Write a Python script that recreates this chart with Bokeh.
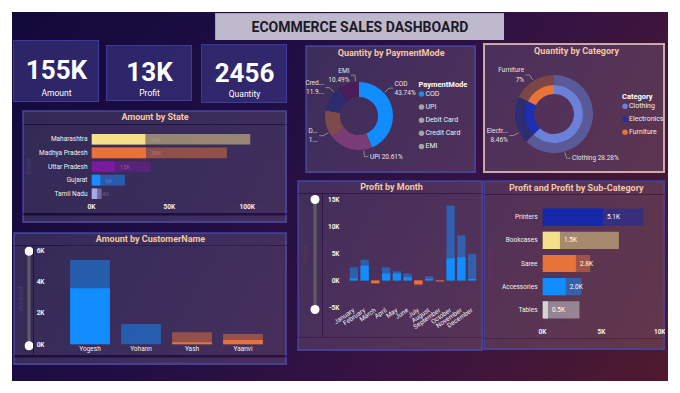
import math
import numpy as np
from bokeh.plotting import figure
from bokeh.models import Range1d, FactorRange, FixedTicker, LinearAxis, CategoricalAxis, ColumnDataSource
from bokeh.layouts import column, row
from bokeh.embed import file_html
from bokeh.resources import INLINE
from bokeh.core.properties import value

# ---------------- data ----------------
dashboard_title = "ECOMMERCE SALES DASHBOARD"

kpi_values = ["155K", "13K", "2456"]
kpi_labels = ["Amount", "Profit", "Quantity"]

states = ["Maharashtra", "Madhya Pradesh", "Uttar Pradesh", "Gujarat", "Tamil Nadu"]
state_amount = [102000, 87000, 38000, 21500, 6500]
state_amount_hl = [34600, 35000, 15000, 5700, 3600]
state_ticks = [0, 50000, 100000]
state_tick_labels = ["0K", "50K", "100K"]

customers = ["Yogesh", "Yohann", "Yash", "Yaanvi"]
customer_amount = [5430, 1310, 780, 670]
customer_amount_hl = [3610, 0, 140, 290]
customer_ticks = [0, 2000, 4000, 6000]
customer_tick_labels = ["0K", "2K", "4K", "6K"]

payment_modes = ["COD", "UPI", "Debit Card", "Credit Card", "EMI"]
payment_share = [43.74, 20.61, 13.26, 11.90, 10.49]
payment_slice_labels = ["COD\n43.74%", "UPI 20.61%", "D...\n1...", "Cred...\n11.9...", "EMI\n10.49%"]

categories = ["Clothing", "Electronics", "Furniture"]
category_share = [62.5, 19.7, 17.8]
category_share_hl = [28.28, 8.46, 7.0]
category_slice_labels = ["Clothing 28.28%", "Electr...\n8.46%", "Furniture\n7%"]

months = ["January", "February", "March", "April", "May", "June", "July",
          "August", "September", "October", "November", "December"]
month_profit = [2450, 3850, -600, 2450, 1700, 1280, -900, 800, -200, 13900, 8360, 4900]
month_profit_hl = [350, 2750, -450, 1300, 1300, 600, -650, 300, -150, 4100, 4300, 300]
month_ticks = [-5000, 0, 5000, 10000, 15000]
month_tick_labels = ["-5K", "0K", "5K", "10K", "15K"]

subcats = ["Printers", "Bookcases", "Saree", "Accessories", "Tables"]
subcat_profit = [8550, 6470, 4040, 3300, 3130]
subcat_profit_hl = [5120, 1480, 2830, 1970, 460]
subcat_ticks = [0, 5000, 10000]
subcat_tick_labels = ["0K", "5K", "10K"]

# ---------------- styles ----------------
FONT = "Roboto"
TXT = "#f2f2f2"
FAINT = "#4d3d78"
FAINT2 = "#5e3560"
PEACH = "#f4c6a6"
OUTLINE = "#2e2580"
BLUE = "#118dff"
ORANGE = "#e8733a"
PANEL_ALPHA = 0.13
state_colors = ["#f2e08a", "#e8733a", "#7a1a9c", "#1a8cff", "#a9a9ea"]
customer_colors = [BLUE, BLUE, ORANGE, ORANGE]
subcat_colors = ["#1428a8", "#f2e08a", "#e8733a", "#118dff", "#d4d4d4"]
payment_colors = ["#118dff", "#7b3a78", "#7e4b4b", "#2d2c6e", "#4b1c5b"]
payment_legend_dots = ["#118dff", "#a3a3a3", "#a3a3a3", "#a3a3a3", "#a3a3a3"]
category_outer_colors = ["#5b5a98", "#2d2d72", "#7b4646"]
category_inner_colors = ["#6b80d8", "#1c2eb4", "#e8733a"]


def outline_css(color, w=1):
    return {"outline": f"{w}px solid {color}", "outline-offset": f"-{w}px"}


def fig(w, h, x_range, y_range, borders, fill="white", alpha=PANEL_ALPHA):
    l, t, r, b = borders
    p = figure(width=w, height=h, x_range=x_range, y_range=y_range,
               x_axis_location=None, y_axis_location=None,
               output_backend="svg", toolbar_location=None,
               min_border_left=l, min_border_top=t, min_border_right=r, min_border_bottom=b)
    p.border_fill_color = fill
    p.border_fill_alpha = alpha
    p.background_fill_color = fill
    p.background_fill_alpha = alpha
    p.outline_line_color = None
    p.grid.visible = False
    return p


def text_band(w, h, text, cx, cy, color=PEACH, size="9px", bold=True):
    # a thin strip; x measured in pixels from the panel's left edge, y from its top
    p = fig(w, h, Range1d(0, w), Range1d(-h, 0), (0, 0, 0, 0))
    p.text(x=[cx], y=[-cy], text=[text], text_align="center", text_baseline="middle",
           text_font=value(FONT), text_font_size=size, text_font_style="bold" if bold else "normal",
           text_color=color)
    return row(p)


def style_axis(ax, size="6.5px", standoff=4, bold=False, label=None, label_standoff=2,
               label_color=FAINT, label_size="7px"):
    ax.axis_line_color = None
    ax.major_tick_line_color = None
    ax.minor_tick_line_color = None
    ax.major_tick_out = 0
    ax.major_tick_in = 0
    ax.minor_tick_out = 0
    ax.minor_tick_in = 0
    ax.major_label_text_font = FONT
    ax.major_label_text_font_size = size
    ax.major_label_text_color = TXT
    ax.major_label_standoff = standoff
    if bold:
        ax.major_label_text_font_style = "bold"
    if label:
        ax.axis_label = label
        ax.axis_label_text_font = FONT
        ax.axis_label_text_font_size = label_size
        ax.axis_label_text_font_style = "normal"
        ax.axis_label_text_color = label_color
        ax.axis_label_standoff = label_standoff


def lin_inv(p0, v0, p1, v1):
    k = (v1 - v0) / (p1 - p0)
    return lambda px: v0 + (px - p0) * k


def slider_fig(w, h, borders, y_range, lo, hi, label, label_color):
    p = fig(w, h, Range1d(-1, 1), y_range, borders)
    p.segment(x0=0, y0=lo, x1=0, y1=hi, line_color="#5f5d66", line_width=3)
    p.scatter(x=[0, 0], y=[lo, hi], size=9, fill_color="white", line_color=None)
    ax = LinearAxis(ticker=FixedTicker(ticks=[]))
    style_axis(ax, label=label, label_standoff=0, label_color=label_color)
    p.add_layout(ax, "left")
    return p


def panel(w, h, parts, margin, color=OUTLINE, width=2):
    return column(*parts, width=w, height=h, margin=margin, styles=outline_css(color, width))


# ---------------- title ----------------
tf = fig(289, 27, Range1d(0, 1), Range1d(0, 1), (0, 0, 0, 0), fill="#bdb8cb", alpha=1.0)
tf.text(x=[0.5], y=[0.5], text=[dashboard_title], text_align="center", text_baseline="middle",
        text_font=value(FONT), text_font_size="14px", text_font_style="bold", text_color="#1d1a26")
title_box = row(tf, margin=(1, 0, 0, 203), styles=outline_css("#8f8aa3"))

# ---------------- KPI cards ----------------
card_sizes = [(86, 62), (86, 56), (86, 59)]
card_margins = [(0, 0, 0, 1), (5, 0, 0, 7), (4, 0, 0, 9)]
cards = []
for i in range(3):
    w, h = card_sizes[i]
    c = fig(w, h, Range1d(0, 1), Range1d(0, 1), (0, 0, 0, 0), fill="#4a46a0", alpha=0.45)
    c.text(x=[0.5], y=[0.52], text=[kpi_values[i]], text_align="center", text_baseline="middle",
           text_font=value(FONT), text_font_size="26px", text_font_style="bold", text_color="white")
    c.text(x=[0.5], y=[0.16], text=[kpi_labels[i]], text_align="center", text_baseline="middle",
           text_font=value(FONT), text_font_size="8.5px", text_color="white")
    cards.append(row(c, margin=card_margins[i], styles=outline_css("#3b3399")))
kpi_row = row(*cards)

# ---------------- Amount by State ----------------
# panel 22..287 x 110..223 ; title 110..124 ; chart 124..213 ; axis title 213..223
# frame 87..277 x 132..201 ; 0 at 87, 100K at 246
st_inv = lin_inv(87, 0, 246, 100000)
state_p = fig(265, 89, Range1d(st_inv(87), st_inv(277)), FactorRange(factors=states[::-1]),
              (65, 8, 10, 12))
src = ColumnDataSource(dict(state=states, total=state_amount, hl=state_amount_hl, color=state_colors,
                            label=[f"{v/1000:.0f}K" for v in state_amount_hl]))
state_p.hbar(y="state", left=0, right="total", height=0.78, fill_color="color", fill_alpha=0.5,
             line_color=None, source=src)
state_p.hbar(y="state", left=0, right="hl", height=0.78, fill_color="color", line_color=None, source=src)
state_p.text(x="hl", y="state", text="label", x_offset=5, text_baseline="middle", text_font=value(FONT),
             text_font_size="6px", text_color="#d8c8d8", text_alpha=0.35, source=src)
ya = CategoricalAxis()
style_axis(ya, standoff=4, label="State", label_standoff=3)
state_p.add_layout(ya, "left")
xa = LinearAxis(ticker=FixedTicker(ticks=state_ticks),
                major_label_overrides=dict(zip(state_ticks, state_tick_labels)))
style_axis(xa, standoff=2, bold=True)
state_p.add_layout(xa, "below")
state_panel = panel(265, 113, [text_band(265, 14, "Amount by State", 132.6, 6.7), row(state_p),
                               text_band(265, 10, "Amount", 160, 5, FAINT, "6px", False)],
                    (7, 0, 0, 10))

# ---------------- Amount by CustomerName ----------------
# panel 13..287 x 232..365 ; title 232..245 ; body 245..355 ; axis title 355..365
# 0 at 345.3, 6K at 250.7
cu_inv = lin_inv(345.3, 0, 250.7, 6000)
cu_slider = slider_fig(20, 110, (9, 0, 0, 4), Range1d(cu_inv(351), cu_inv(245)),
                       customer_ticks[0], customer_ticks[-1], "Amount", FAINT)
cust_p = fig(254, 110, FactorRange(factors=customers), Range1d(cu_inv(345.3), cu_inv(245)),
             (31, 0, 19, 10))
csrc = ColumnDataSource(dict(c=customers, total=customer_amount, hl=customer_amount_hl, color=customer_colors))
cust_p.vbar(x="c", bottom=0, top="total", width=0.78, fill_color="color", fill_alpha=0.5,
            line_color=None, source=csrc)
cust_p.vbar(x="c", bottom=0, top="hl", width=0.78, fill_color="color", line_color=None, source=csrc)
cya = LinearAxis(ticker=FixedTicker(ticks=customer_ticks),
                 major_label_overrides=dict(zip(customer_ticks, customer_tick_labels)))
style_axis(cya, standoff=20, bold=True)
cust_p.add_layout(cya, "left")
cxa = CategoricalAxis()
style_axis(cxa, standoff=0)
cust_p.add_layout(cxa, "below")
cust_panel = panel(274, 133, [text_band(274, 13, "Amount by CustomerName", 137, 6.7),
                              row(row(cu_slider), row(cust_p)),
                              text_band(274, 10, "CustomerName", 153, 5, FAINT, "6px", False)],
                   (9, 0, 0, 1))


# ---------------- donut helpers ----------------
def donut(p, cx, cy, shares, r_in, r_out, colors):
    cum = np.concatenate([[0], np.cumsum(shares)])
    starts = [math.pi / 2 - 2 * math.pi * c / 100 for c in cum[:-1]]
    ends = [math.pi / 2 - 2 * math.pi * c / 100 for c in cum[1:]]
    p.annular_wedge(x=cx, y=cy, inner_radius=r_in, outer_radius=r_out,
                    inner_radius_units="screen", outer_radius_units="screen",
                    start_angle=starts, end_angle=ends, direction="clock",
                    fill_color=colors, line_color=None)


def donut_labels(p, cx, cy, shares, fracs, texts, r1, r2, hlen=4, gap=1.5):
    cum = 0.0
    xs, ys = [], []
    left = dict(x=[], y=[], t=[])
    right = dict(x=[], y=[], t=[])
    for s, f, t in zip(shares, fracs, texts):
        th = 2 * math.pi * (cum + f * s) / 100
        sx, sy = math.sin(th), math.cos(th)
        x1, y1 = cx + r1 * sx, cy + r1 * sy
        x2, y2 = cx + r2 * sx, cy + r2 * sy
        d = 1 if sx >= 0 else -1
        x3 = x2 + d * hlen
        xs.append([x1, x2, x3])
        ys.append([y1, y2, y2])
        tgt = left if d > 0 else right
        tgt["x"].append(x3 + d * gap)
        tgt["y"].append(y2)
        tgt["t"].append(t)
        cum += s
    p.multi_line(xs, ys, line_color="#a0a0a0", line_width=0.8)
    for dct, al in ((left, "left"), (right, "right")):
        if dct["x"]:
            p.text(x=dct["x"], y=dct["y"], text=dct["t"], text_align=al, text_baseline="middle",
                   text_font=value(FONT), text_font_size="6.5px", text_color="#e6e6e6",
                   text_line_height=1.15)


def legend(p, x, y0, step, title, names, dots):
    p.text(x=[x - 3], y=[-(y0 - 10)], text=[title], text_baseline="middle", text_font=value(FONT),
           text_font_size="7.5px", text_font_style="bold", text_color="white")
    ys = [-(y0 + i * step) for i in range(len(names))]
    p.scatter(x=[x] * len(names), y=ys, size=5.5, fill_color=dots, line_color=None)
    p.text(x=[x + 4] * len(names), y=ys, text=names, text_baseline="middle", text_font=value(FONT),
           text_font_size="7px", text_color="#eeeeee")


def donut_title(p, x, y, text):
    p.text(x=[x], y=[-y], text=[text], text_align="center", text_baseline="middle",
           text_font=value(FONT), text_font_size="9px", text_font_style="bold", text_color=PEACH)


# ---------------- Quantity by PaymentMode ----------------
# panel 305..476 x 45..173 (data = page coords, y negated)
pay_p = fig(171, 128, Range1d(305, 476), Range1d(-173, -45), (0, 0, 0, 0))
donut_title(pay_p, 390.6, 52, "Quantity by PaymentMode")
donut(pay_p, 358.5, -115.5, payment_share, 19, 34, payment_colors)
donut_labels(pay_p, 358.5, -115.5, payment_share, [0.3, 0.2, 0.2, 0.8, 0.85],
             payment_slice_labels, 35, 41)
legend(pay_p, 421, 93.5, 13.1, "PaymentMode", payment_modes, payment_legend_dots)
pay_box = row(pay_p, margin=(5, 0, 0, 10), styles=outline_css(OUTLINE, 2))

# ---------------- Profit by Month ----------------
# panel 297..483 x 180..351 ; title 180..193 ; body 193..337 ; axis title 337..351
# 15K at 199, -5K at 309
mo_inv = lin_inv(309, -5000, 199, 15000)
mo_slider = slider_fig(25, 144, (12, 1, 2, 23), Range1d(mo_inv(314), mo_inv(194)),
                       month_ticks[0], month_ticks[-1], "Profit", FAINT2)
month_p = fig(161, 144, FactorRange(factors=months), Range1d(mo_inv(309), mo_inv(199)), (26, 6, 6, 28))
msrc = ColumnDataSource(dict(m=months, total=month_profit, hl=month_profit_hl,
                             color=[BLUE if v >= 0 else ORANGE for v in month_profit]))
month_p.vbar(x="m", bottom=0, top="total", width=0.77, fill_color="color", fill_alpha=0.5,
             line_color=None, source=msrc)
month_p.vbar(x="m", bottom=0, top="hl", width=0.77, fill_color="color", line_color=None, source=msrc)
mya = LinearAxis(ticker=FixedTicker(ticks=month_ticks),
                 major_label_overrides=dict(zip(month_ticks, month_tick_labels)))
style_axis(mya, standoff=9, bold=True)
month_p.add_layout(mya, "left")
mxa = CategoricalAxis(major_label_orientation=0.61)
style_axis(mxa, standoff=2)
month_p.add_layout(mxa, "below")
month_panel = panel(186, 171, [text_band(186, 13, "Profit by Month", 94, 6.5),
                               row(row(mo_slider), row(month_p)),
                               text_band(186, 14, "Month", 115.5, 6, FAINT2, "7px", False)],
                    (7, 0, 0, 2))

# ---------------- Quantity by Category ----------------
# panel 483..665 x 43..173
cat_p = fig(182, 130, Range1d(483, 665), Range1d(-173, -43), (0, 0, 0, 0))
donut_title(cat_p, 576, 50.7, "Quantity by Category")
donut(cat_p, 553.5, -113.5, category_share, 29, 39, category_outer_colors)
donut(cat_p, 553.5, -113.5, category_share, 20, 29, category_inner_colors)
donut_labels(cat_p, 553.5, -113.5, category_share, [0.73, 0.24, 0.5], category_slice_labels, 40, 46)
legend(cat_p, 624.5, 105.7, 13, "Category", categories, category_inner_colors)
cat_box = row(cat_p, margin=(3, 0, 0, 0), styles=outline_css("#c4a09e", 2))

# ---------------- Profit by Sub-Category ----------------
# panel 483..665 x 180..350 ; title 180..194 ; chart 194..338 ; axis title 338..350
# 0 at 537, 10K at 660 ; frame 537..660 x 205..321
sub_p = fig(182, 144, Range1d(subcat_ticks[0], subcat_ticks[-1]), FactorRange(factors=subcats[::-1]),
            (54, 11, 5, 17))
ssrc = ColumnDataSource(dict(s=subcats, total=subcat_profit, hl=subcat_profit_hl, color=subcat_colors,
                             label=[f"{v/1000:.1f}K" for v in subcat_profit_hl]))
sub_p.hbar(y="s", left=0, right="total", height=0.74, fill_color="color", fill_alpha=0.5,
           line_color=None, source=ssrc)
sub_p.hbar(y="s", left=0, right="hl", height=0.74, fill_color="color", line_color=None, source=ssrc)
sub_p.text(x="hl", y="s", text="label", x_offset=4, text_baseline="middle", text_font=value(FONT),
           text_font_size="6.5px", text_color="white", source=ssrc)
sya = CategoricalAxis()
style_axis(sya, standoff=5, label="Sub-Category", label_standoff=5, label_color=FAINT2)
sub_p.add_layout(sya, "left")
sxa = LinearAxis(ticker=FixedTicker(ticks=subcat_ticks),
                 major_label_overrides=dict(zip(subcat_ticks, subcat_tick_labels)))
style_axis(sxa, standoff=6, bold=True)
sub_p.add_layout(sxa, "below")
sub_panel = panel(182, 170, [text_band(182, 14, "Profit and Profit by Sub-Category", 92.8, 7.3),
                             row(sub_p),
                             text_band(182, 12, "Profit", 115.5, 5, FAINT2, "7px", False)],
                  (7, 0, 0, 0))

# ---------------- assemble ----------------
left_col = column(kpi_row, state_panel, cust_panel, width=283)
mid_col = column(pay_box, month_panel, width=188)
right_col = column(cat_box, sub_panel, width=185)
main_row = row(left_col, mid_col, right_col, width=656)
dash = column(title_box, main_row, width=656, height=369, margin=(12, 0, 0, 12),
              styles={"background": "linear-gradient(120deg, #120a3a 0%, #1f0e44 35%, #361342 65%, #4f1a2e 100%)"})

open("out.html", "w").write(file_html(dash, INLINE))
